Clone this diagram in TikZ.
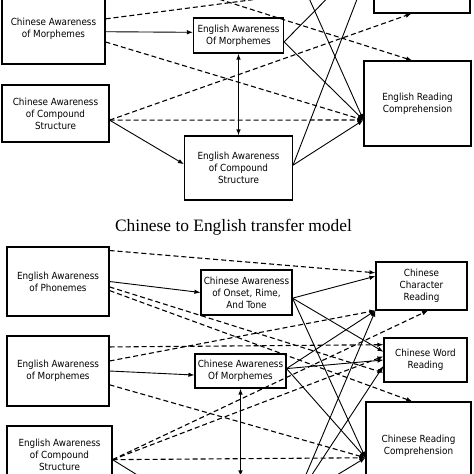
\documentclass[tikz,border=0pt]{standalone}
\usepackage{fontspec}
\setmainfont{DejaVu Sans Condensed}
\newfontfamily\titlefont{Liberation Serif}
\usetikzlibrary{arrows.meta}

\begin{document}
\begin{tikzpicture}[x=1pt, y=-1pt,
    box/.style={draw, line width=1.1pt, inner sep=0pt, align=center,
        font=\fontsize{9.8}{12}\selectfont},
    link/.style={line width=0.9pt, -{Latex[length=6pt,width=4.5pt]}},
    direct/.style={link, line width=1.1pt, dash pattern=on 5pt off 3pt},
    corr/.style={line width=1.6pt, {Latex[length=6pt,width=4.5pt]}-{Latex[length=6pt,width=4.5pt]}}]
    \useasboundingbox (0,0) rectangle (474,474);
    \clip (0,0) rectangle (474,474);

    % Upper model: Chinese awareness -> English reading
    \node[box, minimum width=103pt, minimum height=70pt] (cm) at (53.5,29) {Chinese Awareness\\of Morphemes};
    \node[box, minimum width=107pt, minimum height=57pt] (cc) at (55.5,113.5) {Chinese Awareness\\of Compound\\Structure};
    \node[box, minimum width=90pt, minimum height=35pt] (em) at (238.5,35.5) {English Awareness\\Of Morphemes};
    \node[box, minimum width=108pt, minimum height=64pt] (ec) at (238.5,168) {English Awareness\\of Compound\\Structure};
    \node[box, minimum width=107pt, minimum height=85pt] (erc) at (417.5,103.5) {English Reading\\Comprehension};
    \node[box, minimum width=96pt, minimum height=53pt] (ewr) at (422,-13.5) {};
    % ends cut off above the frame
    \coordinate (cp) at (105,-37);
    \coordinate (eo) at (283,-60);
    \coordinate (emup) at (388,-63);
    \coordinate (ecup) at (376,-50);

    \draw[link] (cm.-3) -- (em.176);
    \draw[link] (cc.-7) -- (ec.176);
    \draw[corr] (em.south) -- (ec.north);
    \draw[link] (em.-8) -- (erc.197);
    \draw[link] (em.-8) -- (emup);
    \draw[link] (ec.3) -- (erc.197);
    \draw[link] (ec.3) -- (ecup);
    \draw[link] (eo) -- (erc.197);
    \draw[direct] (cm.11) -- (ewr.177);
    \draw[direct] (cm.-14) -- (erc.197);
    \draw[direct] (cc.-7) -- (erc.197);
    \draw[direct] (cc.-7) -- (ewr.249);
    \draw[direct] (cp) -- (erc.97);

    \node[anchor=base, font=\titlefont\fontsize{17.4}{20}\selectfont] (title) at (233.5,231.5) {Chinese to English transfer model};

    % Lower model: English awareness -> Chinese reading
    \node[box, minimum width=102pt, minimum height=69pt] (ep) at (58,281.5) {English Awareness\\of Phonemes};
    \node[box, minimum width=102pt, minimum height=70pt] (emo) at (58,371) {English Awareness\\of Morphemes};
    \node[box, minimum width=105pt, minimum height=58pt] (ecs) at (59.5,455) {English Awareness\\of Compound\\Structure};
    \node[box, minimum width=91pt, minimum height=45pt] (co) at (246.5,292.5) {Chinese Awareness\\of Onset, Rime,\\And Tone};
    \node[box, minimum width=91pt, minimum height=34pt] (cmo) at (240.5,371) {Chinese Awareness\\Of Morphemes};
    \node[box, minimum width=108pt, minimum height=64pt] (ccs) at (240.5,509) {};
    \node[box, minimum width=91pt, minimum height=48pt] (ccr) at (421.5,286) {Chinese\\Character\\Reading};
    \node[box, minimum width=83pt, minimum height=44pt] (cwr) at (425.5,360) {Chinese Word\\Reading};
    \node[box, minimum width=105pt, minimum height=87pt] (crc) at (418.5,445.5) {Chinese Reading\\Comprehension};

    \draw[link] (ep.east) -- (co.west);
    \draw[link] (emo.east) -- (cmo.185);
    \draw[link] (ecs.-5) -- (ccs.176);
    \draw[corr] (cmo.south) -- (ccs.north);
    \draw[link] (co.-7) -- (ccr.168);
    \draw[link] (co.-7) -- (cwr.169);
    \draw[link] (co.-7) -- (crc.193);
    \draw[link] (cmo.3) -- (ccr.south west);
    \draw[link] (cmo.3) -- (cwr.west);
    \draw[link] (cmo.3) -- (crc.193);
    \draw[link] (ccs.9) -- (ccr.south west);
    \draw[link] (ccs.9) -- (cwr.188);
    \draw[link] (ccs.9) -- (crc.193);
    % direct paths
    \draw[direct] (ep.31) -- (ccr.164);
    \draw[direct] (ep.-6) -- (cwr.197);
    \draw[direct] (ep.-10) -- (crc.98);
    \draw[direct] (emo.11) -- (ccr.south west);
    \draw[direct] (emo.25) -- (cwr.160);
    \draw[direct] (emo.-15) -- (crc.193);
    \draw[direct] (ecs.-5) -- (ccr.-75);
    \draw[direct] (ecs.-5) -- (cwr.175);
    \draw[direct] (ecs.-5) -- (crc.193);
\end{tikzpicture}
\end{document}
